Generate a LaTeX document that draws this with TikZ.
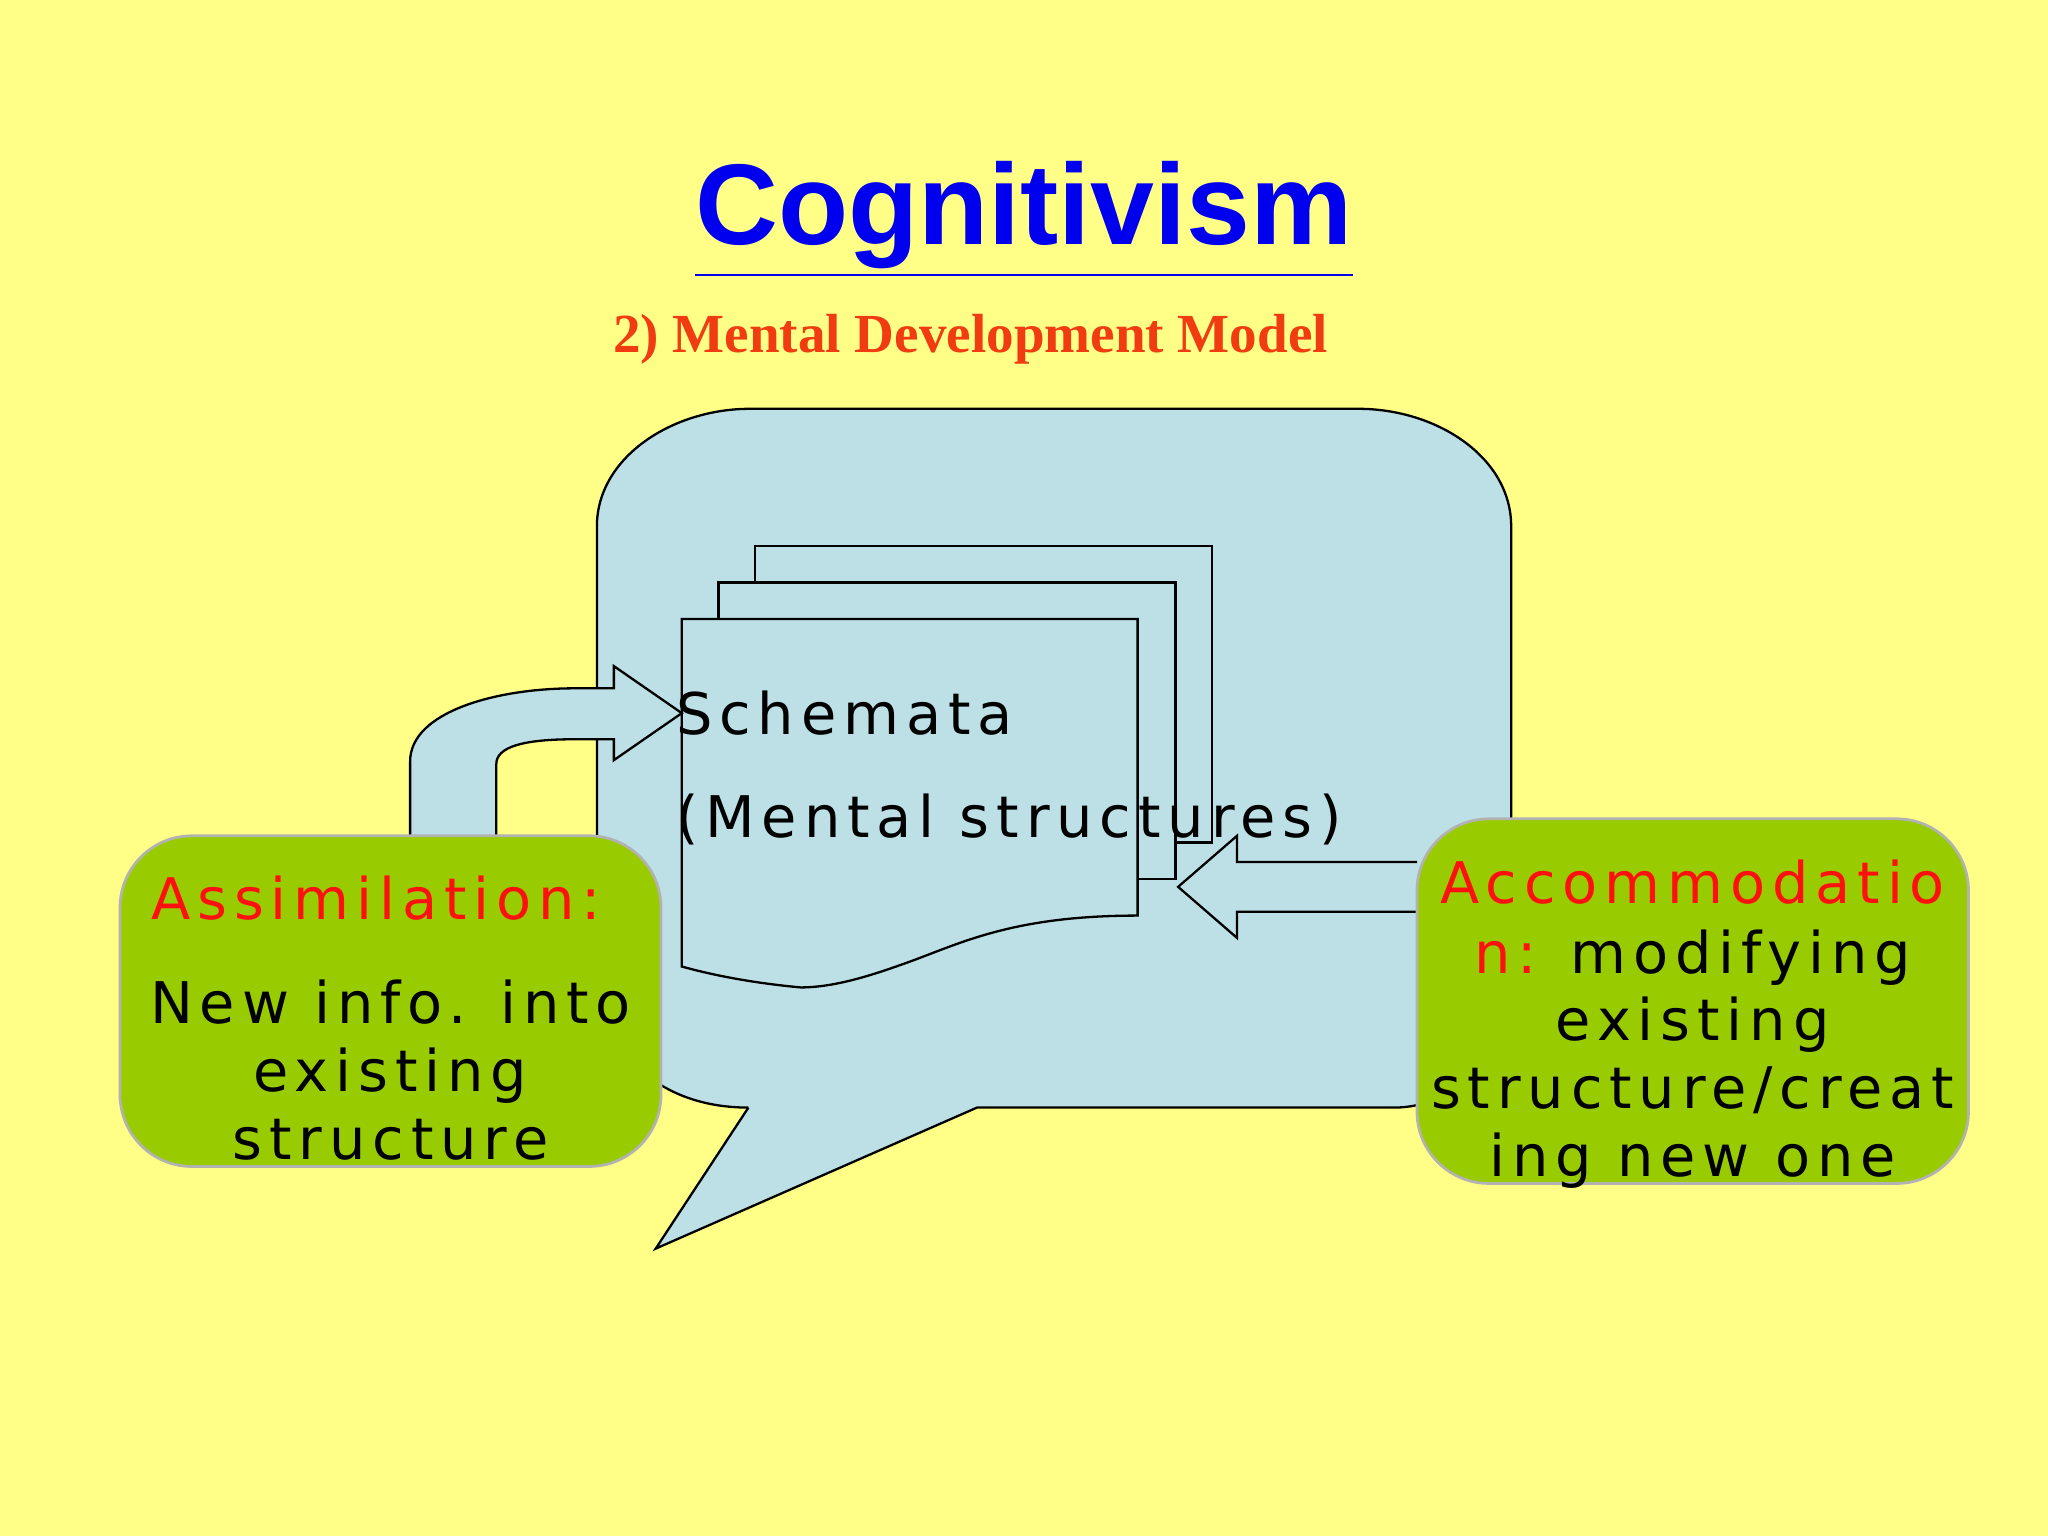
\documentclass[tikz,border=0pt]{standalone}
\usepackage{fontspec}
\setmainfont{Liberation Serif}
\setsansfont{Liberation Sans}
\newfontfamily\gul[LetterSpace=12]{DejaVu Sans}
\definecolor{bg}{HTML}{FFFF88}
\definecolor{bub}{HTML}{BDE0E6}
\definecolor{grn}{HTML}{99CC00}
\definecolor{ttl}{HTML}{0000EE}
\definecolor{sub}{HTML}{F03C10}
\definecolor{rd}{HTML}{FF1010}
\begin{document}
\begin{tikzpicture}[x=0.01cm,y=-0.01cm,
  shp/.style={draw=black,line width=0.5pt,fill=bub},
  gbox/.style={draw=gray!60,line width=0.6pt,fill=grn,rounded corners=0.55cm},
  txt/.style={font=\gul\fontsize{12.5}{15}\selectfont,inner sep=0pt,anchor=base}]
\fill[bg] (0,0) rectangle (1568,1176);
\useasboundingbox (0,0) rectangle (1568,1176);
\node[font=\sffamily\bfseries\fontsize{25}{30}\selectfont,text=ttl,inner sep=0pt] (title) at (784,168) {\underline{Cognitivism}};
\node[font=\bfseries\fontsize{12}{14}\selectfont,text=sub,inner sep=0pt] (subt) at (743,260) {2) Mental Development Model};
% speech bubble
\draw[shp] (573,848) -- (502,956) -- (748,848) -- (1067,848)
  .. controls (1120,848) and (1157,800) .. (1157,740) -- (1157,403)
  .. controls (1157,350) and (1100,313) .. (1040,313) -- (574,313)
  .. controls (515,313) and (457,350) .. (457,403) -- (457,740)
  .. controls (457,800) and (500,848) .. (573,848);
% stacked documents
\draw[shp] (578,418) rectangle (928,645);
\draw[shp] (550,446) rectangle (900,673);
\draw[shp] (522,474) -- (871,474) -- (871,701) .. controls (780,701) and (740,720) .. (700,735) .. controls (670,746) and (640,756) .. (613,756) .. controls (570,752) and (540,745) .. (522,740) -- cycle;
\node[txt,anchor=base west] (sch) at (517,562) {Schemata};
\node[txt,anchor=base west] (ms) at (517,641) {(Mental structures)};
% curved arrow
\draw[shp] (314,640) -- (314,583) .. controls (314,545) and (380,527) .. (440,527) -- (470,527) -- (470,510) -- (522,546) -- (470,582) -- (470,566) -- (440,566) .. controls (400,566) and (380,572) .. (380,585) -- (380,640);
% left arrow
\draw[shp] (1085,660) -- (947,660) -- (947,640) -- (902,679) -- (947,718) -- (947,698) -- (1085,698);
% boxes
\node[gbox,minimum width=4.14cm,minimum height=2.53cm] (assim) at (299,766.5) {};
\node[txt,text=rd] (a1) at (288,704) {Assimilation:};
\node[txt] (a2) at (299,784) {New info. into};
\node[txt] (a3) at (299,836) {existing};
\node[txt] (a4) at (299,888) {structure};
\node[gbox,minimum width=4.22cm,minimum height=2.79cm] (accom) at (1296,766.5) {};
\node[txt,text=rd] (b1) at (1296,692) {Accommodatio};
\node[txt] (b2) at (1296,745) {\textcolor{rd}{n:} modifying};
\node[txt] (b3) at (1296,797) {existing};
\node[txt] (b4) at (1296,849) {structure/creat};
\node[txt] (b5) at (1296,901) {ing new one};
\end{tikzpicture}
\end{document}
